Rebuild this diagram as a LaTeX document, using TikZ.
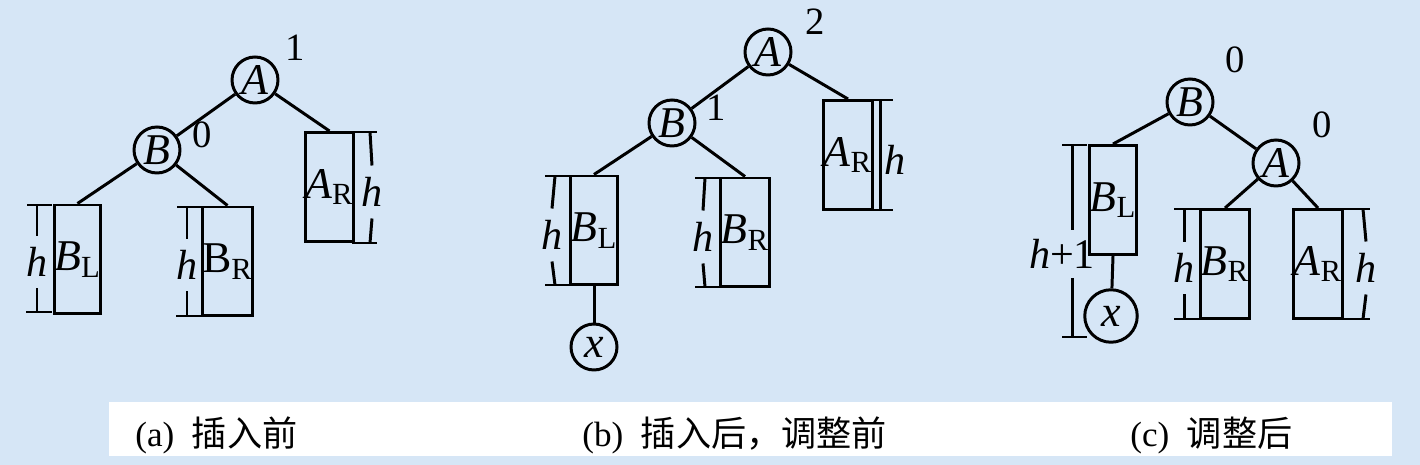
\documentclass[tikz,border=0pt]{standalone}
\usepackage{fontspec}
\setmainfont{Liberation Serif}
\newfontfamily\cjk{Noto Sans CJK SC}
\definecolor{bg}{RGB}{214,230,246}
\begin{document}
\begin{tikzpicture}[x=0.02cm,y=-0.02cm,line width=1.7pt,
  nd/.style={circle,draw,minimum size=0.92cm,inner sep=0pt,font=\fontsize{25}{25}\selectfont\itshape},
  tr/.style={draw,minimum width=0.92cm,minimum height=2.18cm,inner sep=0pt,font=\fontsize{25}{25}\selectfont},
  bf/.style={font=\fontsize{22}{22}\selectfont},
  hl/.style={inner sep=0pt,minimum height=1.0cm,font=\fontsize{24}{24}\selectfont\itshape},
  captxt/.style={anchor=west,font=\fontsize{20}{20}\selectfont}]
\fill[bg] (0,0) rectangle (1420,465);
\useasboundingbox (0,0) rectangle (1420,465);
\fill[white] (109,402) rectangle (1392,456);
\newcommand{\sub}[2]{$\mathit{#1}_{\mathrm{#2}}$}
% (a)
\node[nd] (aA) at (255,80) {A};
\node[bf] (a1) at (295,48) {1};
\node[nd] (aB) at (157,150) {B};
\node[bf] (a0) at (202,135) {0};
\node[tr] (aBL) at (77.5,259.5) {\sub{B}{L}};
\node[tr] (aBR) at (227.5,261.5) {B\textsubscript{R}};
\node[tr] (aAR) at (329.5,187) {\sub{A}{R}};
\draw (aA) -- (aB); \draw (aA) -- (aAR.north);
\draw (aB) -- (aBL.north); \draw (aB) -- (aBR.north);
\coordinate (a1t) at (37,205); \coordinate (a1b) at (37,312);
\node[hl] (ah1) at (37,262) {h};
\draw (a1t) -- (ah1.north); \draw (ah1.south) -- (a1b);
\draw (27,205) -- (52,205); \draw (26,312) -- (52,312);
\coordinate (a2t) at (187,207); \coordinate (a2b) at (187,316);
\node[hl] (ah2) at (187,265) {h};
\draw (a2t) -- (ah2.north); \draw (ah2.south) -- (a2b);
\draw (177,207) -- (202,207); \draw (176,316) -- (202,316);
\coordinate (a3t) at (370,132); \coordinate (a3b) at (370,243);
\node[hl] (ah3) at (372,192) {h};
\draw (a3t) -- (ah3.north); \draw (ah3.south) -- (a3b);
\draw (352,132) -- (377,132); \draw (352,243) -- (377,243);
% (b)
\node[nd] (bA) at (768,52) {A};
\node[bf] (b2) at (815,22) {2};
\node[nd] (bB) at (672,123) {B};
\node[bf] (b1) at (716,108) {1};
\node[tr] (bBL) at (594,230.5) {\sub{B}{L}};
\node[nd] (bx) at (594,347) {x};
\node[tr] (bBR) at (745,232.5) {\sub{B}{R}};
\node[tr] (bAR) at (848,155) {\sub{A}{R}};
\draw (bA) -- (bB); \draw (bA) -- (bAR.north);
\draw (bB) -- (bBL.north); \draw (bB) -- (bBR.north);
\draw (bBL.south) -- (bx);
\coordinate (b1t) at (555,176); \coordinate (b1b) at (555,285);
\node[hl] (bh1) at (552,235) {h};
\draw (b1t) -- (bh1.north); \draw (bh1.south) -- (b1b);
\draw (545,176) -- (570,176); \draw (545,285) -- (570,285);
\coordinate (b2t) at (705,178); \coordinate (b2b) at (705,287);
\node[hl] (bh2) at (703,237) {h};
\draw (b2t) -- (bh2.north); \draw (bh2.south) -- (b2b);
\draw (695,178) -- (720,178); \draw (695,287) -- (720,287);
\coordinate (b3t) at (880,100); \coordinate (b3b) at (880,210);
\node[hl] (bh3) at (895,160) {h};
\draw (b3t) -- (b3b);
\draw (871,100) -- (893,100); \draw (871,210) -- (893,210);
% (c)
\node[nd] (cB) at (1190,102) {B};
\node[bf] (c0a) at (1235,60) {0};
\node[nd] (cA) at (1276,163) {A};
\node[bf] (c0b) at (1322,125) {0};
\node[tr] (cBL) at (1113,200) {\sub{B}{L}};
\node[nd,minimum size=1.05cm] (cx) at (1111,316) {x};
\node[tr] (cBR) at (1225,264) {\sub{B}{R}};
\node[tr] (cAR) at (1318,264) {\sub{A}{R}};
\draw (cB) -- (cA); \draw (cB) -- (cBL.north);
\draw (cA) -- (cBR.north); \draw (cA) -- (cAR.north);
\draw (cBL.south) -- (cx);
\coordinate (c1t) at (1072,145); \coordinate (c1b) at (1072,337);
\node[hl] (ch1) at (1062,254) {h\textup{+1}};
\draw (c1t) -- (1072,230); \draw (1072,278) -- (c1b);
\draw (1062,145) -- (1087,145); \draw (1062,337) -- (1087,337);
\coordinate (c2t) at (1184,209); \coordinate (c2b) at (1184,319);
\node[hl] (ch2) at (1184,268) {h};
\draw (c2t) -- (ch2.north); \draw (ch2.south) -- (c2b);
\draw (1174,209) -- (1199,209); \draw (1174,319) -- (1199,319);
\coordinate (c3t) at (1363,209); \coordinate (c3b) at (1363,319);
\node[hl] (ch3) at (1366,268) {h};
\draw (c3t) -- (ch3.north); \draw (ch3.south) -- (c3b);
\draw (1344,209) -- (1370,209); \draw (1344,319) -- (1370,319);
% captions
\node[captxt] (ca) at (128,435) {(a)\ \ {\cjk 插入前}};
\node[captxt] (cb) at (575,435) {(b)\ \ {\cjk 插入后，调整前}};
\node[captxt] (cc) at (1123,435) {(c)\ \ {\cjk 调整后}};
\end{tikzpicture}
\end{document}
